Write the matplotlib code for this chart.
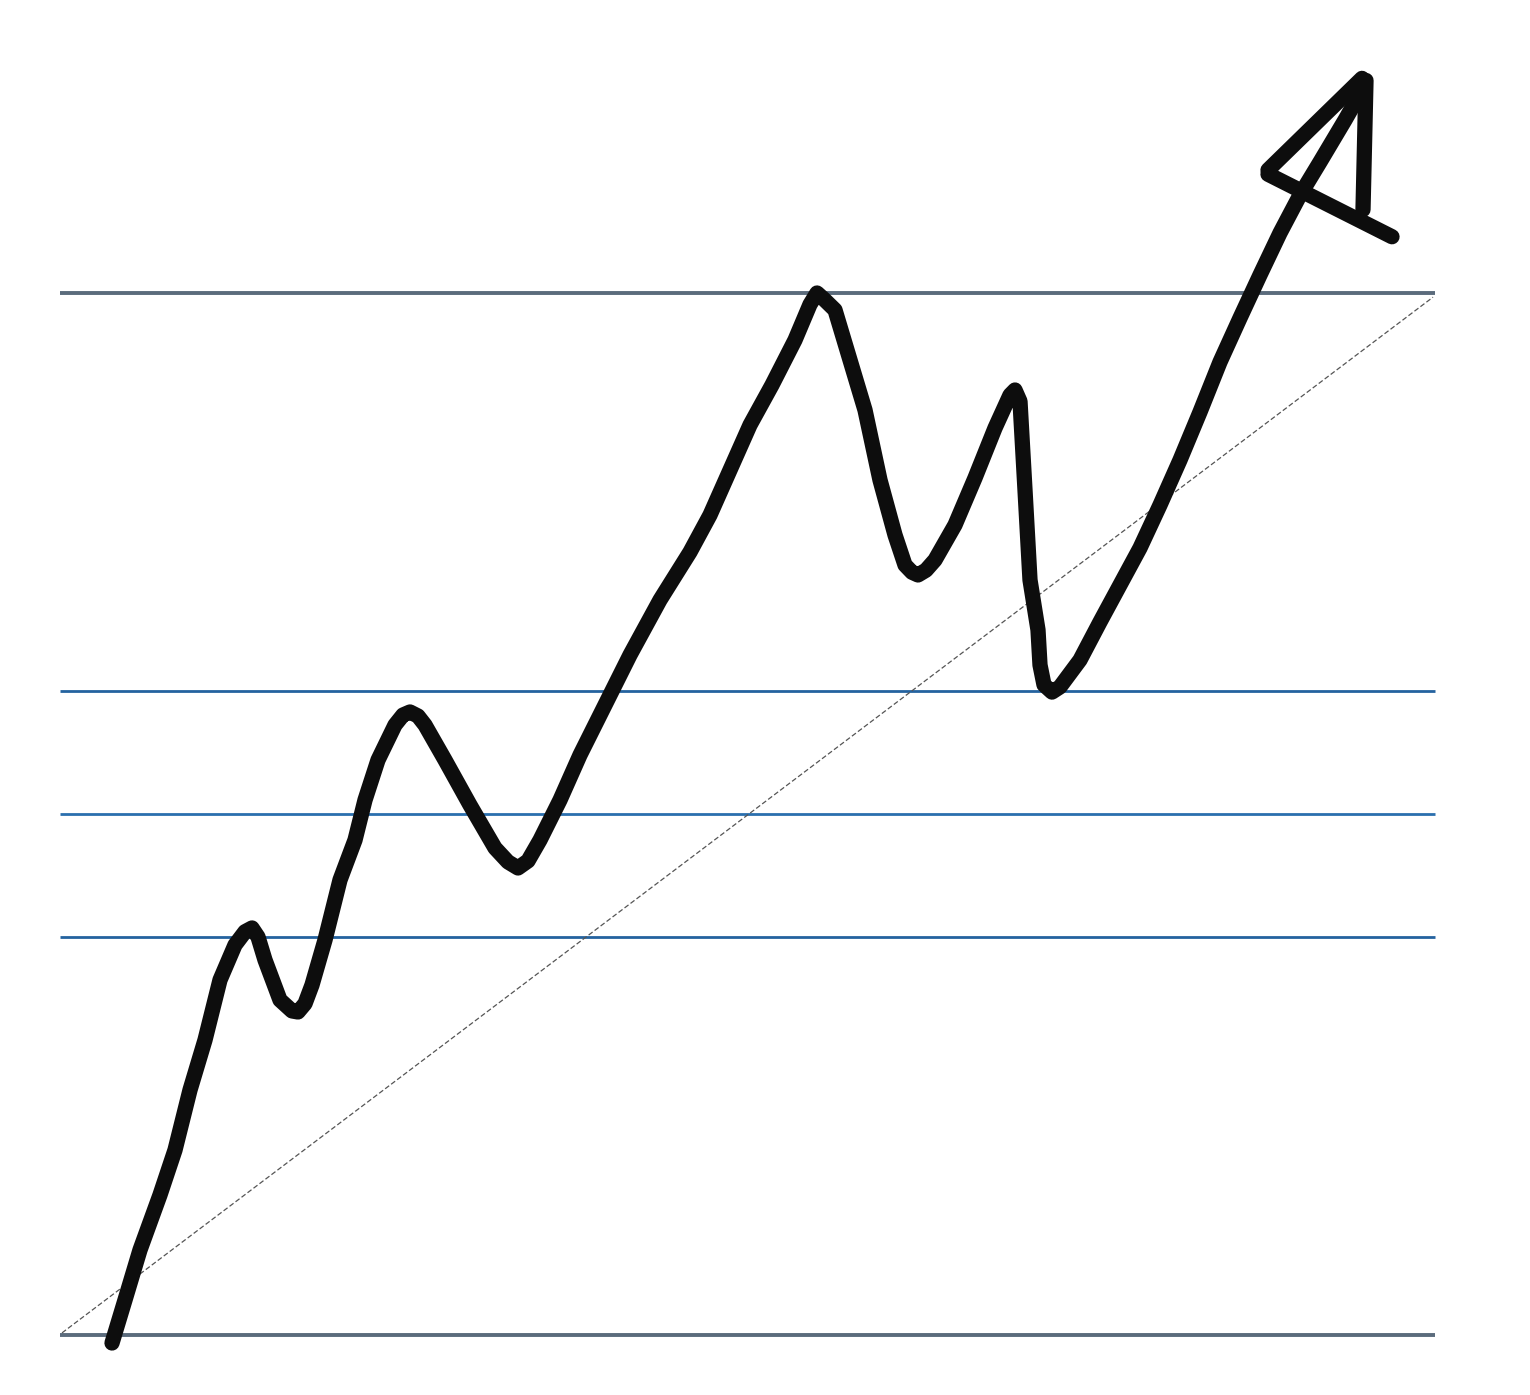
import matplotlib
matplotlib.use("Agg")
import matplotlib.pyplot as plt

# Fibonacci retracement levels (price scale 0-100)
fib_levels = [0.0, 38.2, 50.0, 61.8, 100.0]
fib_colors = ["#5b6b7c", "#24629f", "#2a6fae", "#24629f", "#5b6b7c"]
fib_widths = [2.8, 2.0, 2.0, 2.0, 2.8]

# hand-drawn price path
path_t = [112, 125, 140, 160, 175, 190, 205, 220, 235, 245, 252, 258, 265, 280, 292, 298, 305, 312, 325,
          340, 355, 365, 378, 395, 403, 410, 418, 425, 445, 470, 495, 508, 518, 528, 540, 560, 580, 605,
          630, 660, 690, 710, 730, 750, 772, 795, 810, 817, 824, 835, 850, 865, 880, 895, 905,
          912, 918, 926, 935, 955, 975, 995, 1010, 1015, 1020, 1025, 1030, 1038, 1040, 1044, 1052, 1060, 1080, 1100,
          1120, 1140, 1160, 1180, 1200, 1220, 1240, 1260, 1280, 1300, 1320, 1345, 1365]
path_p = [-0.77, 3.36, 8.16, 13.44, 17.75, 23.51, 28.31, 34.07, 37.43, 38.7, 39.06, 38.2, 35.99, 32.15, 31.1, 31.00, 31.8, 33.59, 37.91,
          43.67, 47.50, 51.34, 55.18, 58.54, 59.5, 59.79, 59.4, 58.54, 55.18, 50.86, 46.74, 45.4, 44.82, 45.5, 47.50, 51.34, 55.66, 60.46,
          65.26, 70.54, 75.14, 78.69, 83.01, 87.33, 91.17, 95.49, 98.9, 100.0, 99.4, 98.37, 93.57, 88.77, 82.05, 76.78, 73.90,
          73.2, 72.94, 73.4, 74.38, 77.74, 82.25, 87.04, 90.2, 90.69, 89.6, 81.09, 72.46, 67.66, 64.30, 62.4, 61.7, 62.2, 64.78, 68.43,
          71.98, 75.53, 79.65, 83.97, 88.58, 93.38, 97.60, 101.73, 105.76, 109.40, 112.57, 116.60, 119.96]

# arrowhead strokes
head_left_t = [1268, 1362]
head_left_p = [111.8, 120.6]
head_right_t = [1366, 1363]
head_right_p = [120.4, 108.0]
head_base_t = [1268, 1392]
head_base_p = [111.4, 105.4]

# trend line
trend_t = [62, 1433]
trend_p = [0.2, 99.6]

level_t0, level_t1 = 60, 1435

fig = plt.figure(figsize=(15.3, 13.95), dpi=100)
ax = fig.add_axes([0, 0, 1, 1])
ax.set_xlim(0, 1530)
ax.set_ylim(-5.76, 128.12)
ax.axis("off")

for lv, c, w in zip(fib_levels, fib_colors, fib_widths):
    ax.hlines(lv, level_t0, level_t1, colors=c, linewidth=w, zorder=1)

ax.plot(trend_t, trend_p, color="#555555", linewidth=0.9, linestyle=(0, (4, 2)), zorder=2)

stroke = dict(color="#0d0d0d", linewidth=11, solid_capstyle="round", solid_joinstyle="round", zorder=3)
ax.plot(path_t, path_p, **stroke)
ax.plot(head_left_t, head_left_p, **stroke)
ax.plot(head_right_t, head_right_p, **stroke)
ax.plot(head_base_t, head_base_p, **stroke)

fig.savefig("out.png", dpi=100, facecolor="white")
